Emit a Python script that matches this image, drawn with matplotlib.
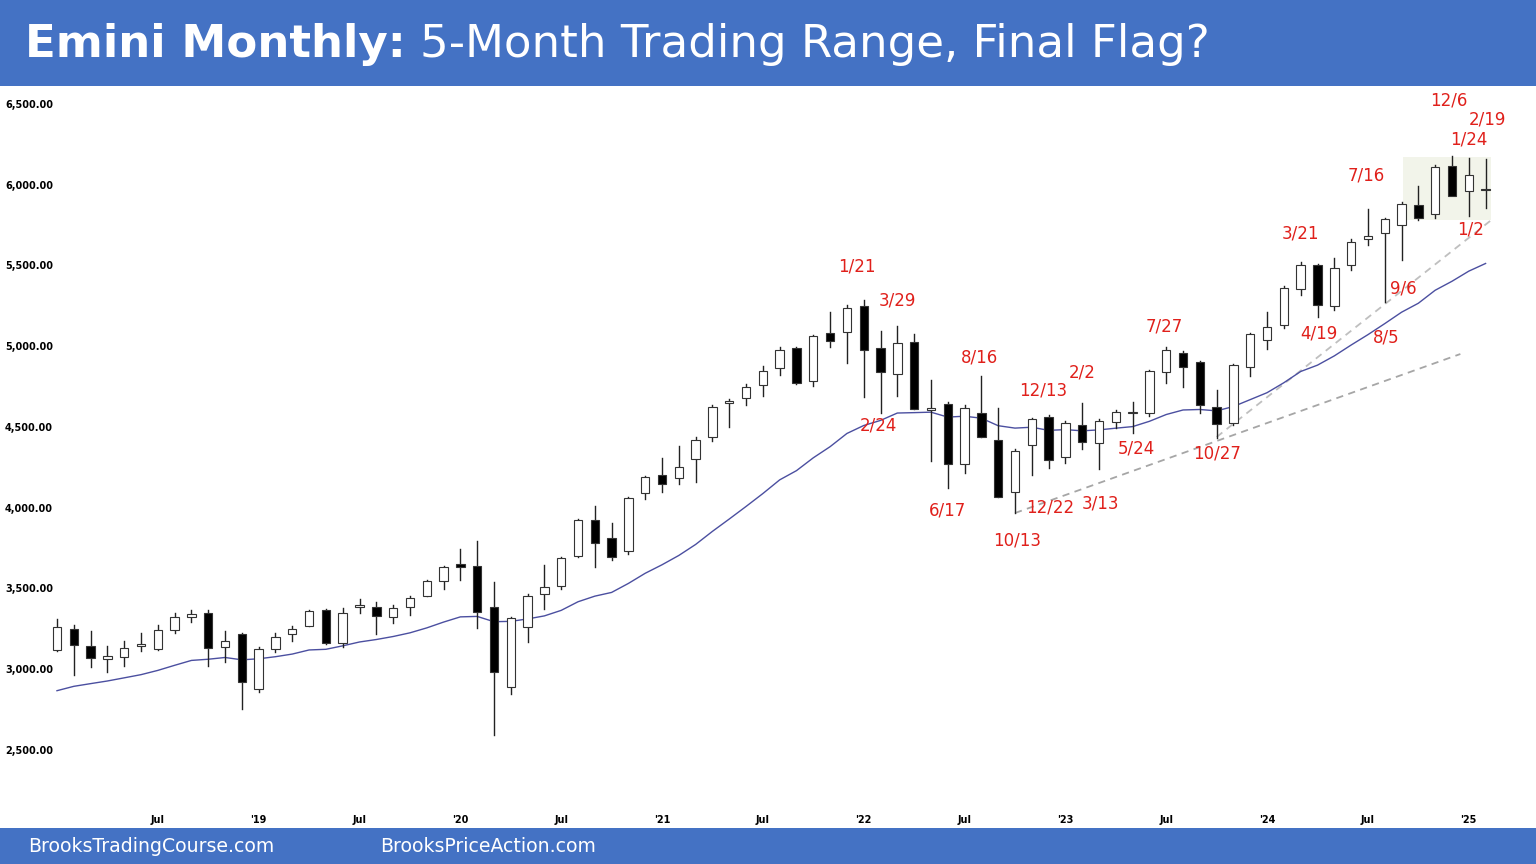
import matplotlib
matplotlib.use("Agg")
import matplotlib.pyplot as plt
from matplotlib.patches import Rectangle
import matplotlib.transforms as mtransforms

# monthly bars, Jan 2018 .. Feb 2025
opens = [3124, 3254, 3149, 3068, 3081, 3150, 3130, 3248, 3325, 3355, 3142, 3220,
         2883, 3130, 3223, 3273, 3372, 3167, 3390, 3390, 3330, 3390, 3458, 3551,
         3657, 3644, 3390, 2894, 3266, 3470, 3520, 3706, 3929, 3818, 3737, 4096,
         4208, 4190, 4307, 4443, 4655, 4685, 4765, 4871, 4995, 4790, 5088, 5094,
         5255, 4995, 4834, 5032, 4610, 4648, 4276, 4592, 4425, 4103, 4394, 4567,
         4319, 4517, 4406, 4536, 4590, 4592, 4846, 4964, 4908, 4629, 4530, 4877,
         5044, 5137, 5360, 5509, 5255, 5509, 5670, 5707, 5757, 5881, 5825, 6122,
         5967, 5975]
highs = [3316, 3279, 3242, 3149, 3180, 3229, 3279, 3353, 3372, 3372, 3242, 3230,
         3140, 3230, 3270, 3370, 3375, 3384, 3440, 3420, 3400, 3455, 3555, 3645,
         3749, 3799, 3545, 3330, 3470, 3650, 3700, 3935, 4016, 3910, 4070, 4200,
         4313, 4388, 4440, 4640, 4680, 4770, 4880, 5000, 5000, 5075, 5218, 5261,
         5292, 5100, 5130, 5080, 4796, 4660, 4640, 4821, 4620, 4370, 4560, 4580,
         4545, 4654, 4555, 4610, 4660, 4860, 5000, 4975, 4915, 4734, 4895, 5090,
         5218, 5380, 5530, 5515, 5550, 5670, 5856, 5800, 5900, 5998, 6130, 6184,
         6170, 6165]
lows = [3120, 2969, 3019, 2988, 3025, 3118, 3125, 3229, 3297, 3025, 3049, 2758,
        2864, 3110, 3180, 3270, 3160, 3140, 3350, 3220, 3290, 3340, 3455, 3500,
        3560, 3260, 2597, 2851, 3173, 3380, 3500, 3700, 3638, 3680, 3720, 4060,
        4100, 4150, 4165, 4420, 4505, 4640, 4700, 4830, 4770, 4760, 5000, 4900,
        4691, 4592, 4700, 4617, 4295, 4127, 4220, 4443, 4071, 3972, 4210, 4250,
        4280, 4370, 4245, 4500, 4468, 4570, 4780, 4750, 4592, 4437, 4520, 4820,
        4990, 5120, 5320, 5187, 5230, 5480, 5630, 5280, 5540, 5790, 5800, 6050,
        5812, 5860]
closes = [3266, 3155, 3074, 3087, 3137, 3158, 3248, 3328, 3347, 3136, 3180, 2926,
          3130, 3204, 3254, 3365, 3167, 3353, 3400, 3334, 3384, 3446, 3551, 3638,
          3636, 3359, 2987, 3322, 3458, 3514, 3694, 3929, 3787, 3700, 4066, 4196,
          4152, 4258, 4425, 4629, 4660, 4753, 4852, 4982, 4778, 5069, 5038, 5242,
          4982, 4846, 5026, 4617, 4625, 4276, 4623, 4443, 4071, 4357, 4555, 4301,
          4530, 4412, 4542, 4598, 4600, 4852, 4982, 4877, 4642, 4524, 4889, 5081,
          5125, 5366, 5509, 5261, 5490, 5651, 5688, 5794, 5887, 5800, 6116, 5936,
          6066, 5970]

x_ticks = [6, 12, 18, 24, 30, 36, 42, 48, 54, 60, 66, 72, 78, 84]
x_tick_labels = ["Jul", "'19", "Jul", "'20", "Jul", "'21", "Jul", "'22", "Jul", "'23",
                 "Jul", "'24", "Jul", "'25"]
y_ticks = [2500, 3000, 3500, 4000, 4500, 5000, 5500, 6000, 6500]

# swing labels: text, month index, price
labels = [("12/6", 82.8, 6530), ("2/19", 85.1, 6412), ("1/24", 84.0, 6288),
          ("7/16", 77.9, 6065), ("1/2", 84.1, 5731), ("3/21", 74.0, 5706),
          ("9/6", 80.1, 5365), ("4/19", 75.1, 5086), ("8/5", 79.1, 5061),
          ("1/21", 47.6, 5499), ("3/29", 50.0, 5288), ("7/27", 65.9, 5125),
          ("8/16", 54.9, 4933), ("12/13", 58.7, 4729), ("2/2", 61.0, 4840),
          ("2/24", 48.9, 4517), ("5/24", 64.2, 4374), ("10/27", 69.0, 4343),
          ("6/17", 53.0, 3988), ("12/22", 59.1, 4006), ("3/13", 62.1, 4031),
          ("10/13", 57.1, 3802)]

ema_seed = 2830
ema = []
prev = ema_seed
for c in closes:
    prev = prev + (c - prev) * 2 / 21
    ema.append(prev)

fig = plt.figure(figsize=(15.36, 8.64), dpi=100)
ax = fig.add_axes([0, 36 / 864, 1, (828 - 92) / 864])
ax.set_xlim(-3.39, 88.0)
ax.set_ylim(2021, 6580)
ax.axis("off")

# trading range box
ax.add_patch(Rectangle((80.1, 5788), 5.2, 390, facecolor="#f2f4ea", edgecolor="none", zorder=0))

# trend lines
ax.plot([57, 83.5], [3972, 4957], ls=(0, (4, 3)), color="#a6a6a6", lw=1.3, zorder=1)
ax.plot([69, 85.5], [4443, 5800], ls=(0, (4, 3)), color="#bfbfbf", lw=1.3, zorder=1)

ax.plot(range(len(ema)), ema, color="#4b4fa0", lw=1.0, zorder=2)

w = 0.5
for i, (o, h, l, c) in enumerate(zip(opens, highs, lows, closes)):
    ax.plot([i, i], [l, h], color="#222222", lw=1.0, zorder=3)
    bot, top = min(o, c), max(o, c)
    hgt = max(top - bot, 8)
    fc = "white" if c >= o else "black"
    ax.add_patch(Rectangle((i - w / 2, bot), w, hgt, facecolor=fc,
                           edgecolor="#333333", lw=0.8, zorder=4))

for t, xi, p in labels:
    ax.text(xi, p, t, color="#e0201b", fontsize=12, ha="center", va="center", zorder=5)

ytr = mtransforms.blended_transform_factory(fig.transFigure, ax.transData)
for v in y_ticks:
    ax.text(5 / 1536, v, f"{v:,.2f}", transform=ytr, fontsize=7, fontweight="bold",
            ha="left", va="center")
xtr = mtransforms.blended_transform_factory(ax.transData, fig.transFigure)
for xi, lab in zip(x_ticks, x_tick_labels):
    ax.text(xi, 1 - 820 / 864, lab, transform=xtr, fontsize=7, fontweight="bold",
            ha="center", va="center")

# header and footer bars
fig.patches.append(Rectangle((0, 1 - 86 / 864), 1, 86 / 864, transform=fig.transFigure,
                             facecolor="#4472c4", edgecolor="none"))
fig.patches.append(Rectangle((0, 0), 1, 36 / 864, transform=fig.transFigure,
                             facecolor="#4472c4", edgecolor="none"))
t1 = fig.text(25 / 1536, 1 - 45 / 864, "Emini Monthly:", color="white", fontsize=32.5,
              fontweight="bold", va="center", ha="left")
fig.canvas.draw()
bb = t1.get_window_extent()
fig.text((bb.x1 + 14) / 1536, 1 - 45 / 864, "5-Month Trading Range, Final Flag?",
         color="white", fontsize=32.5, va="center", ha="left")
fig.text(28 / 1536, 1 - 846 / 864, "BrooksTradingCourse.com", color="white", fontsize=13.6,
         va="center")
fig.text(380 / 1536, 1 - 846 / 864, "BrooksPriceAction.com", color="white", fontsize=13.6,
         va="center")

fig.savefig("out.png", dpi=100)
